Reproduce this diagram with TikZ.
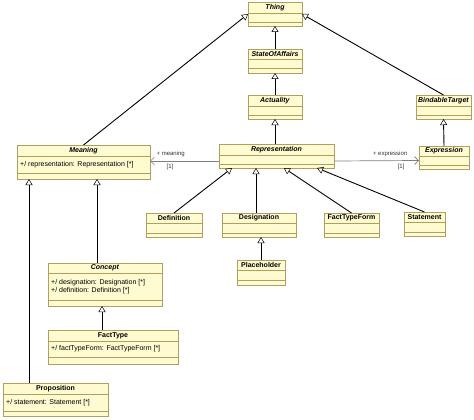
\documentclass[tikz,border=0pt]{standalone}
\usepackage{fontspec}
\setmainfont{Liberation Sans}
\usepackage{xcolor}
\usetikzlibrary{arrows.meta}
\definecolor{clsfill}{RGB}{255,251,208}
\definecolor{clsedge}{RGB}{178,158,96}
\tikzset{
  cls/.style={draw=clsedge, fill=clsfill, line width=0.6pt, inner sep=0pt, outer sep=0pt},
  clssep/.style={draw=clsedge, line width=0.6pt},
  clstitle/.style={font=\fontsize{7}{8}\selectfont\bfseries, inner sep=0pt},
  clsattr/.style={font=\fontsize{7}{8.5}\selectfont, inner sep=0pt, align=left, anchor=west},
  gen/.style={-{Triangle[open, length=6pt, width=7pt, line width=0.5pt]}, line width=0.9pt},
  assoc/.style={-{Straight Barb[length=4pt, width=8pt]}, gray, line width=0.7pt},
  role/.style={font=\fontsize{6}{7}\selectfont, inner sep=1pt, text=black!80}
}
\newcommand{\umlclass}[9]{%
  \node[cls, anchor=north west, minimum width=#4pt, minimum height=#5pt] (#1) at (#2,#3) {};
  \node[clstitle] (#1-t) at (#2+#4/2,#3+#6/2) {#8};
  \draw[clssep] (#2,#3+#6) -- ++(#4,0);
  \draw[clssep] (#2,#3+#6+#7) -- ++(#4,0);
  \if\relax\detokenize{#9}\relax\else
    \node[clsattr] (#1-a) at (#2+3,#3+#6+#7/2) {#9};
  \fi
}

\begin{document}
\begin{tikzpicture}[x=1pt,y=-1pt]
  \path[fill=white] (0,0) rectangle (474,420);

  \umlclass{thing}{248}{2}{54}{24}{11}{9}{\textit{Thing}}{}
  \umlclass{stateofaffairs}{248}{49}{54}{24}{10}{9}{\textit{StateOfAffairs}}{}
  \umlclass{actuality}{248}{95}{54}{24}{11}{9}{\textit{Actuality}}{}
  \umlclass{bindabletarget}{416}{95}{55}{24}{11}{9}{\textit{BindableTarget}}{}
  \umlclass{expression}{419}{146}{50}{23}{10}{9}{\textit{Expression}}{}
  \umlclass{representation}{219}{144}{115}{24}{11}{9}{\textit{Representation}}{}
  \umlclass{meaning}{17}{145}{133}{34}{11}{17}{\textit{Meaning}}{+/ representation: Representation [*]}
  \umlclass{definition}{146}{213}{56}{24}{10}{10}{Definition}{}
  \umlclass{designation}{222}{213}{74}{24}{10}{10}{Designation}{}
  \umlclass{facttypeform}{324}{213}{55}{24}{10}{10}{FactTypeForm}{}
  \umlclass{statement}{404}{212}{41}{24}{10}{10}{Statement}{}
  \umlclass{placeholder}{237}{260}{48}{25}{10}{10}{Placeholder}{}
  \umlclass{concept}{48}{263}{114}{43}{10}{27}{\textit{Concept}}{+/ designation: Designation [*]\\+/ definition: Definition [*]}
  \umlclass{facttype}{48}{330}{130}{34}{11}{16}{FactType}{+/ factTypeForm: FactTypeForm [*]}
  \umlclass{proposition}{3}{383}{105}{33}{11}{17}{Proposition}{+/ statement: Statement [*]}

  \coordinate (designationtop) at ([xshift=-3pt]designation.north);
  \coordinate (concepttop) at ([xshift=-8pt]concept.north);
  \coordinate (facttypetop) at ([xshift=-11pt]facttype.north);
  \coordinate (propositiontop) at ([xshift=-26.5pt]proposition.north);

  \draw[gen] (meaning.north) -- (thing.west);
  \draw[gen] (stateofaffairs.north) -- (thing.south);
  \draw[gen] (actuality.north) -- (stateofaffairs.south);
  \draw[gen] (representation.north -| actuality.south) -- (actuality.south);
  \draw[gen] (bindabletarget.north) -- (thing.east);
  \draw[gen] (expression.north) -- (bindabletarget.south);

  \draw[assoc] ([yshift=-5pt]representation.west) -- node[role, above=3pt, pos=0.7] (meaningrole) {+ meaning} node[role, below=2pt, pos=0.71] (meaningmult) {[1]} ([yshift=1pt]meaning.east);
  \draw[assoc] ([yshift=-5pt]representation.east) -- node[role, above=3pt, pos=0.66] (expressionrole) {+ expression} node[role, below=2pt, pos=0.79] (expressionmult) {[1]} ([yshift=-3pt]expression.west);

  \draw[gen] (definition.north) -- ([xshift=13pt]representation.south west);
  \draw[gen] (designationtop) -- (designationtop |- representation.south);
  \draw[gen] (facttypeform.north) -- ([xshift=65pt]representation.south west);
  \draw[gen] (statement.north) -- ([xshift=98pt]representation.south west);
  \draw[gen] (placeholder.north) -- (placeholder.north |- designation.south);

  \draw[gen] (concepttop) -- (concepttop |- meaning.south);
  \draw[gen] (facttypetop) -- (facttypetop |- concept.south);
  \draw[gen] (propositiontop) -- (propositiontop |- meaning.south);
\end{tikzpicture}
\end{document}
